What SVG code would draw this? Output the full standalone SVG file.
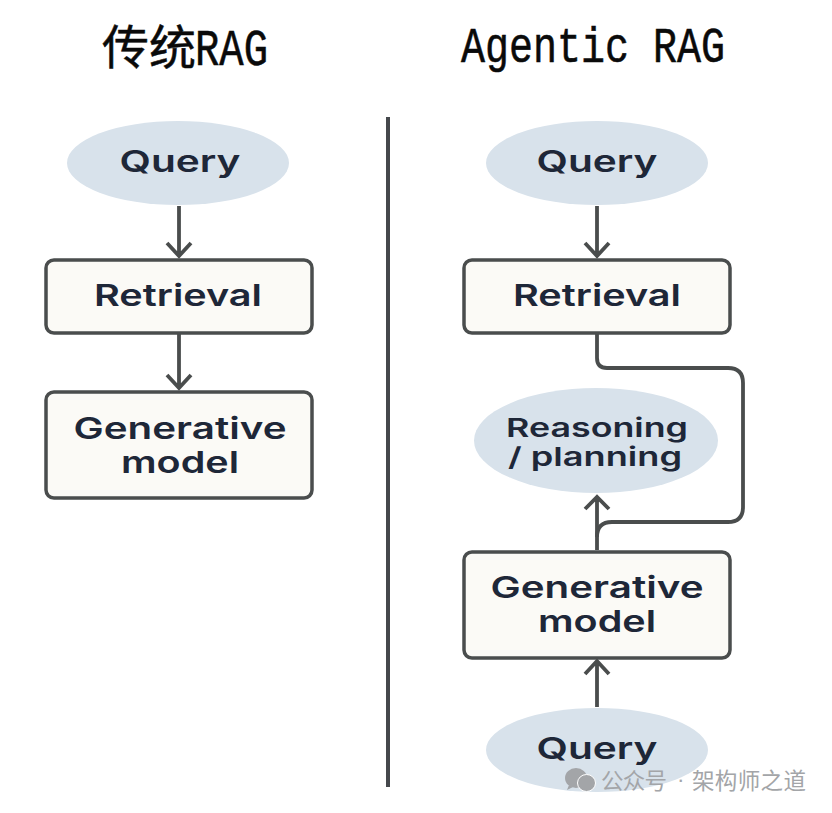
<svg xmlns="http://www.w3.org/2000/svg" width="832" height="813" viewBox="0 0 832 813">
<style>
.title{font-family:"Liberation Mono","Noto Sans CJK SC",monospace;font-size:44px;fill:#0a0a0a;stroke:#0a0a0a;stroke-width:.5px}
.lbl{font-family:"Inter","Liberation Sans",sans-serif;font-weight:600;font-size:30px;fill:#1e2738;text-anchor:middle}
.sm{font-size:26px}
.oval{fill:#d8e2eb}
.box{fill:#fbfaf6;stroke:#4a4d4d;stroke-width:3.5}
.line{fill:none;stroke:#4a4d4d;stroke-width:3.8}
.wm{font-family:"Noto Sans CJK SC","Liberation Sans",sans-serif;font-size:22.5px;fill:#a3a5a8}
</style>
<rect width="832" height="813" fill="#fff"/>
<text class="title" x="102" y="64" style="font-size:47px">传统</text>
<text class="title" transform="translate(195 65) scale(1 1.18)" textLength="73" lengthAdjust="spacingAndGlyphs">RAG</text>
<text class="title" transform="translate(461 62) scale(1 1.15)" textLength="264" lengthAdjust="spacingAndGlyphs">Agentic RAG</text>
<rect x="386" y="117" width="4" height="670" fill="#45484c"/>
<g id="connectors" class="line">
<path d="M179 206V256M167 243L179 256L191 243"/>
<path d="M179 334V388M167 375L179 388L191 375"/>
<path d="M597 206V256M585 243L597 256L609 243"/>
<path d="M597 334V358Q597 368 607 368H728Q743 368 743 383V507Q743 522 728 522H612Q597 522 597 537"/>
<path d="M597 550V497M585 509L597 497L609 509"/>
<path d="M597 707V661M585 674L597 661L609 674"/>
</g>
<g id="q1"><ellipse class="oval" cx="178" cy="163" rx="111" ry="42"/><text class="lbl" x="180" y="172" textLength="121" lengthAdjust="spacingAndGlyphs">Query</text></g>
<g id="r1"><rect class="box" x="46" y="260" width="266" height="73" rx="8"/><text class="lbl" x="178" y="306" textLength="168" lengthAdjust="spacingAndGlyphs">Retrieval</text></g>
<g id="g1"><rect class="box" x="46" y="392" width="266" height="106" rx="8"/><text class="lbl" x="180" y="439" textLength="213" lengthAdjust="spacingAndGlyphs">Generative</text><text class="lbl" x="180" y="473" textLength="118" lengthAdjust="spacingAndGlyphs">model</text></g>
<g id="q2"><ellipse class="oval" cx="597" cy="163" rx="111" ry="42"/><text class="lbl" x="597" y="172" textLength="121" lengthAdjust="spacingAndGlyphs">Query</text></g>
<g id="r2"><rect class="box" x="464" y="260" width="266" height="73" rx="8"/><text class="lbl" x="597" y="306" textLength="168" lengthAdjust="spacingAndGlyphs">Retrieval</text></g>
<g id="p2"><ellipse class="oval" cx="596" cy="440.5" rx="122" ry="52.5"/><text class="lbl sm" x="597" y="437" textLength="182" lengthAdjust="spacingAndGlyphs">Reasoning</text><text class="lbl sm" x="595" y="466" textLength="174" lengthAdjust="spacingAndGlyphs">/ planning</text></g>
<g id="g2"><rect class="box" x="464" y="552" width="266" height="106" rx="8"/><text class="lbl" x="597" y="598" textLength="213" lengthAdjust="spacingAndGlyphs">Generative</text><text class="lbl" x="597" y="632" textLength="118" lengthAdjust="spacingAndGlyphs">model</text></g>
<g id="q3"><ellipse class="oval" cx="597" cy="750" rx="111" ry="42"/><text class="lbl" x="597" y="759" textLength="121" lengthAdjust="spacingAndGlyphs">Query</text></g>
<g id="watermark">
<path d="M569 785L567 790L573 787Z" fill="#a3a5a8"/>
<ellipse cx="576" cy="778" rx="11" ry="10" fill="#a3a5a8"/>
<ellipse cx="586.5" cy="783" rx="9" ry="8.5" fill="#a3a5a8" stroke="#fff" stroke-width="1"/>
<text class="wm" x="601" y="789" textLength="66" lengthAdjust="spacing">公众号</text>
<text class="wm" x="677" y="787" style="font-family:'Liberation Sans',sans-serif">·</text>
<text class="wm" x="692" y="789" textLength="114" lengthAdjust="spacing">架构师之道</text>
</g>
</svg>
